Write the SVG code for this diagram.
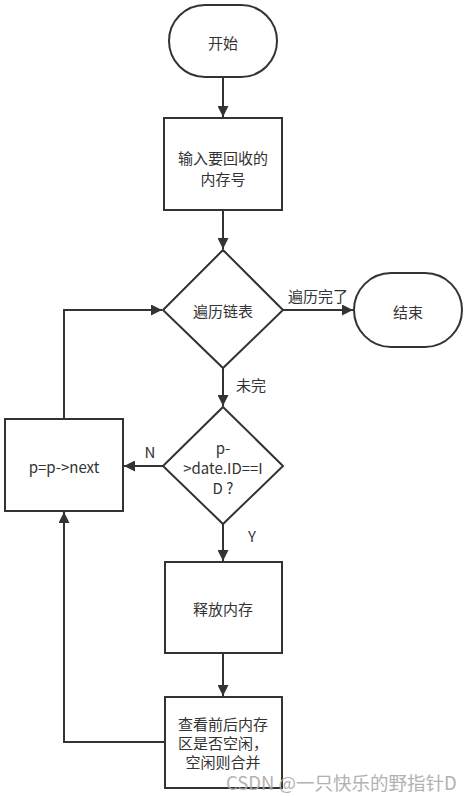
<svg xmlns="http://www.w3.org/2000/svg" width="474" height="796" viewBox="0 0 474 796">
<defs>
<marker id="ah" viewBox="0 0 10 10" refX="10" refY="5" markerWidth="5.5" markerHeight="5.5" orient="auto" markerUnits="strokeWidth">
<path d="M0,0 L10,5 L0,10 Z" fill="#333"/>
</marker>
</defs>
<style>
.s{fill:#fff;stroke:#333;stroke-width:2}
.t{font-family:"Noto Sans CJK SC","Microsoft YaHei",sans-serif;font-size:15px;fill:#333;text-anchor:middle;dominant-baseline:central}
.c{fill:none;stroke:#333;stroke-width:2;marker-end:url(#ah)}
.w{font-family:"Noto Sans CJK SC",sans-serif;font-size:18.5px;fill:#aaa;opacity:0.9}
</style>
<rect width="474" height="796" fill="#fff"/>
<g id="connectors">
<path class="c" d="M223,77 V117"/>
<path class="c" d="M223,210 V249"/>
<path class="c" d="M283,310 H353"/>
<path class="c" d="M223,368 V406"/>
<path class="c" d="M163,466 H124"/>
<path class="c" d="M223,524 V561"/>
<path class="c" d="M223,653 V696"/>
<path class="c" d="M165,742 H64 V512"/>
<path class="c" d="M64,419 V310 H162"/>
<text class="t" x="318" y="295">遍历完了</text>
<text class="t" x="251" y="384">未完</text>
<text class="t" x="150" y="451">N</text>
<text class="t" x="252" y="535">Y</text>
</g>
<g id="start">
<rect class="s" x="169" y="5" width="108" height="72" rx="36" ry="36"/>
<text class="t" x="223" y="42">开始</text>
</g>
<g id="input">
<rect class="s" x="164" y="118" width="118" height="92"/>
<text class="t" x="223" y="157">输入要回收的</text>
<text class="t" x="223" y="178">内存号</text>
</g>
<g id="traverse">
<path class="s" d="M223,250 L283,310 L223,368 L163,310 Z"/>
<text class="t" x="223" y="310">遍历链表</text>
</g>
<g id="end">
<rect class="s" x="354" y="273" width="108" height="74" rx="37" ry="37"/>
<text class="t" x="408" y="311">结束</text>
</g>
<g id="check">
<path class="s" d="M223,407 L283,466 L223,524 L163,466 Z"/>
<text class="t" x="223" y="447">p-</text>
<text class="t" x="223" y="467">&gt;date.ID==I</text>
<text class="t" x="223" y="487">D ?</text>
</g>
<g id="next">
<rect class="s" x="5" y="419" width="118" height="92"/>
<text class="t" x="64" y="466">p=p-&gt;next</text>
</g>
<g id="free">
<rect class="s" x="165" y="562" width="117" height="91"/>
<text class="t" x="223" y="608">释放内存</text>
</g>
<g id="merge">
<rect class="s" x="165" y="697" width="117" height="91"/>
<text class="t" x="223" y="723">查看前后内存</text>
<text class="t" x="223" y="742">区是否空闲，</text>
<text class="t" x="223" y="761">空闲则合并</text>
</g>
<text class="w" x="226" y="790">CSDN @一只快乐的野指针D</text>
</svg>
